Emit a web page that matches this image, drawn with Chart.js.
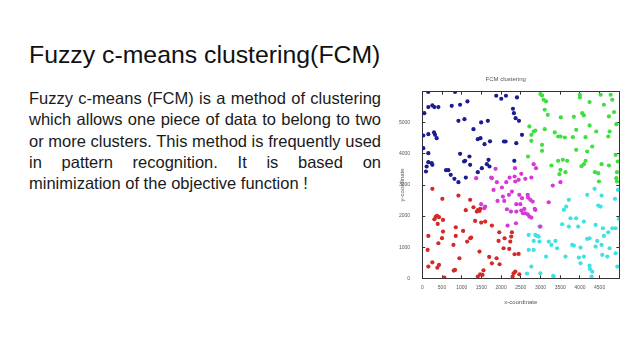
<!DOCTYPE html>
<html>
<head>
<meta charset="utf-8">
<script src="https://cdn.jsdelivr.net/npm/chart.js@4"></script>
<style>
  body { margin: 0; background: #fff; width: 638px; height: 359px; overflow: hidden; position: relative; font-family: "Liberation Sans", Arial, sans-serif; }
  #slide-title { position: absolute; left: 29px; top: 42px; font-size: 24.8px; line-height: 25px; color: #111; white-space: nowrap; }
  #slide-text { position: absolute; left: 29px; top: 88px; width: 352px; font-size: 16.5px; line-height: 21.3px; color: #1a1a1a; text-align: justify; }
  #fcm-chart { position: absolute; left: 392px; top: 66px; }
</style>
</head>
<body>
<div id="slide-title">Fuzzy c-means clustering(FCM)</div>
<div id="slide-text">Fuzzy c-means (FCM) is a method of clustering which allows one piece of data to belong to two or more clusters. This method is frequently used in pattern recognition. It is based on minimization of the objective function !</div>
<canvas id="fcm-chart" width="240" height="244"></canvas>
<script>
// points, [x, y] per cluster
const bluePts = [
  [150,5990],[832,5990],[1876,5869],[2004,5773],[2123,5869],[2403,5816],
  [51,5311],[153,5505],[255,5558],[306,5505],[408,5505],[747,5547],[959,5580],[1146,5687],
  [2301,5451],[2326,5311],[2369,5150],[2454,5064],
  [917,5065],[1070,5118],[1299,4796],[1494,5011],[1664,5065],
  [25,4592],[153,4635],[297,4689],[323,4614],[365,4506],
  [1409,4474],[1477,4506],[1579,4313],[1718,4404],[2072,4399],[2114,4399],[2386,4346],[2530,4614],
  [25,4185],[153,4024],[153,3734],[238,3702],[255,3648],[110,3595],[93,3434],
  [959,4002],[1061,3756],[1087,3777],[1197,3916],[1214,3648],
  [603,3477],[662,3477],[722,3326],[815,3198],[917,3090],[1104,3240],[1409,3412],
  [1511,3541],[1639,3670],[1706,3595],[1681,3809],[2335,3777]
];
const redPts = [
  [255,2876],[509,2554],[917,2661],[1214,2522],[1299,2285],[1104,2189],[1384,2146],[1409,2189],[1452,2167],[1469,2232],
  [306,1899],[340,1974],[374,2006],[424,1964],[391,1749],[526,1878],
  [849,1642],[849,1363],[153,1363],[526,1502],[500,1290],[408,1127],[136,912],[942,644],[1138,1180],[1214,1288],[1240,1309],[1036,1524],
  [1341,1846],[1494,1792],[1596,1824],[1766,1695],[1953,1481],[2275,1481],[2089,1288],[2233,1180],[2258,1341],
  [1452,858],[790,1073],[255,515],[153,376],[424,429],[382,343],[832,268],[798,247],[560,21],
  [1766,483],[1554,258],[1469,129],[1409,54],[1528,107],[1961,451],[2063,966],[2207,944],[2343,773],[2445,783],
  [2318,161],[2360,215],[2462,129],[2292,54],[1698,687],[1885,644],[1936,1202]
];
const magentaPts = [
  [1367,3219],[1749,3240],[1859,3519],[2352,3541],[2343,3273],[2513,3358],[2827,3670],[2886,3541],[3506,3090],[3311,2983],
  [2131,3090],[2046,2629],[1808,2843],[2080,2489],[2199,2683],[2275,2790],[2674,2683],[2683,2597],[2802,2468],[3209,2446],
  [2488,2382],[2386,2146],[2513,2178],[2555,2092],[2615,2092],[2674,2060],[2589,2232],[2853,2232],[2386,2382],[2148,2221],
  [1910,2489],[2250,2146],[2165,1695],[2377,1770],[1494,2382],[1571,2253],[1596,2307],[2997,1663],
  [2445,3165],[2615,3198],[2768,3240],[2462,2683],[2530,2575],[2742,2522],[2717,1985],[2768,1953],[2870,2200],
  [1893,3090],[2021,2919],[2216,3240],[2360,3112],[1766,3219]
];
const greenPts = [
  [2997,5923],[3039,5880],[3999,5902],[3999,5816],[4525,5902],[4780,5902],[4822,5741],[4245,5665],[3082,5741],[3141,5687],[4610,5580],[4865,5344],
  [3107,5419],[3184,5258],[3515,5172],[3846,5193],[4058,5311],[4101,5236],[4737,5204],
  [2717,4882],[2870,4753],[2827,4721],[2768,4614],[2768,4421],[3107,4796],[3362,4689],[3447,4560],[3507,4560],[3617,4528],
  [3821,4539],[3906,4775],[4143,4539],[4245,4914],[4415,4721],[4754,4721],[4720,4560],[4924,4957],
  [3039,4292],[3039,4099],[2683,3916],[3277,3627],[3447,3777],[3566,3809],[3677,3777],[3507,3487],[3481,3348],[3634,3412],
  [3906,4131],[4143,3777],[4101,3670],[4041,3605],[4185,4077],[4313,4238],[4550,3670],[4737,3627],[4907,3970],
  [4466,3380],[4381,3412],[4483,3112],[4960,3755],[4940,3412],[4924,3219],[4940,3112]
];
const cyanPts = [
  [4186,2683],[4372,2876],[4550,2661],[4466,2339],[4525,2307],[4890,2554],[4966,2843],
  [3719,2522],[3651,2307],[3592,2200],[3761,1931],[3906,1931],[3549,1738],[3719,1663],[3957,1663],[4101,1824],
  [4398,1717],[4584,1610],[4720,1481],[4610,1363],[4822,1610],[4907,1610],[4992,1910],
  [4245,1288],[4186,1266],[4440,1202],[4550,1073],
  [2972,1663],[2700,1395],[2870,1395],[2912,1363],[2954,1341],[2827,1202],[2972,1180],[2700,912],[2827,912],
  [3209,1180],[3277,1073],[3379,1202],[3422,966],[3804,1073],[3846,1052],[4016,987],[3634,697],[3141,697],
  [2768,376],[2658,150],[2997,161],[3337,54],[3973,665],[4101,697],[4245,408],[4313,215],[4296,54],
  [4398,1019],[4568,751],[4695,697],[4754,966],[4907,805],[4950,376],[4016,483],[4253,300],[3320,75]
];

const xTicksStep = 500;
const yTicksStep = 1000;
const xMax = 5000;
const yMax = 6000;

function makeSet(pts, color) {
  return {
    data: pts.map(p => ({ x: p[0], y: p[1] })),
    backgroundColor: color,
    borderColor: color,
    borderWidth: 0,
    pointRadius: 2.1,
  };
}

const tickFont = { family: "Liberation Sans", size: 5 };
const labelFont = { family: "Liberation Sans", size: 6, weight: "normal" };
const axisColor = "#333";
const textColor = "#555";

const ctx = document.getElementById("fcm-chart").getContext("2d");
new Chart(ctx, {
  type: "scatter",
  data: {
    datasets: [
      makeSet(bluePts, "#1c1c8e"),
      makeSet(redPts, "#d22a2a"),
      makeSet(magentaPts, "#d838d8"),
      makeSet(greenPts, "#3ee03e"),
      makeSet(cyanPts, "#3ee2e2"),
    ],
  },
  options: {
    responsive: false,
    animation: false,
    layout: { padding: { top: 0, right: 12.7, bottom: 0, left: 0 } },
    plugins: {
      legend: { display: false },
      tooltip: { enabled: false },
      title: {
        display: true,
        text: "FCM clustering",
        color: textColor,
        font: labelFont,
        padding: { top: 9.4, bottom: 9.1 },
      },
    },
    scales: {
      x: {
        type: "linear",
        position: "bottom",
        min: 0,
        max: xMax,
        ticks: {
          stepSize: xTicksStep,
          padding: 9,
          font: tickFont,
          color: textColor,
          maxRotation: 0,
          autoSkip: false,
          callback: (v) => (v === xMax ? "" : String(v)),
        },
        grid: { drawOnChartArea: false, tickLength: -3, tickColor: axisColor },
        border: { color: axisColor },
        title: { display: true, text: "x-coordinate", color: textColor, font: labelFont, padding: { top: 0, bottom: 3.7 } },
        afterFit: (s) => { s.height = 31.7; },
      },
      y: {
        type: "linear",
        position: "left",
        min: 0,
        max: yMax,
        ticks: {
          stepSize: yTicksStep,
          padding: 15.3,
          font: tickFont,
          color: textColor,
          autoSkip: false,
          callback: (v) => (v === yMax ? "" : String(v)),
        },
        grid: { drawOnChartArea: false, tickLength: -3, tickColor: axisColor },
        border: { color: axisColor },
        title: { display: true, text: "y-coordinate", color: textColor, font: labelFont, padding: { top: 6.6, bottom: 0 } },
        afterFit: (s) => { s.width = 30.3; },
      },
      x2: {
        type: "linear",
        position: "top",
        min: 0,
        max: xMax,
        ticks: { stepSize: xTicksStep, display: false },
        grid: { drawOnChartArea: false, tickLength: -3, tickColor: axisColor },
        border: { color: axisColor },
        afterFit: (s) => { s.height = 0; },
      },
      y2: {
        type: "linear",
        position: "right",
        min: 0,
        max: yMax,
        ticks: { stepSize: yTicksStep, display: false },
        grid: { drawOnChartArea: false, tickLength: -3, tickColor: axisColor },
        border: { color: axisColor },
        afterFit: (s) => { s.width = 0; },
      },
    },
  },
});
</script>
</body>
</html>
